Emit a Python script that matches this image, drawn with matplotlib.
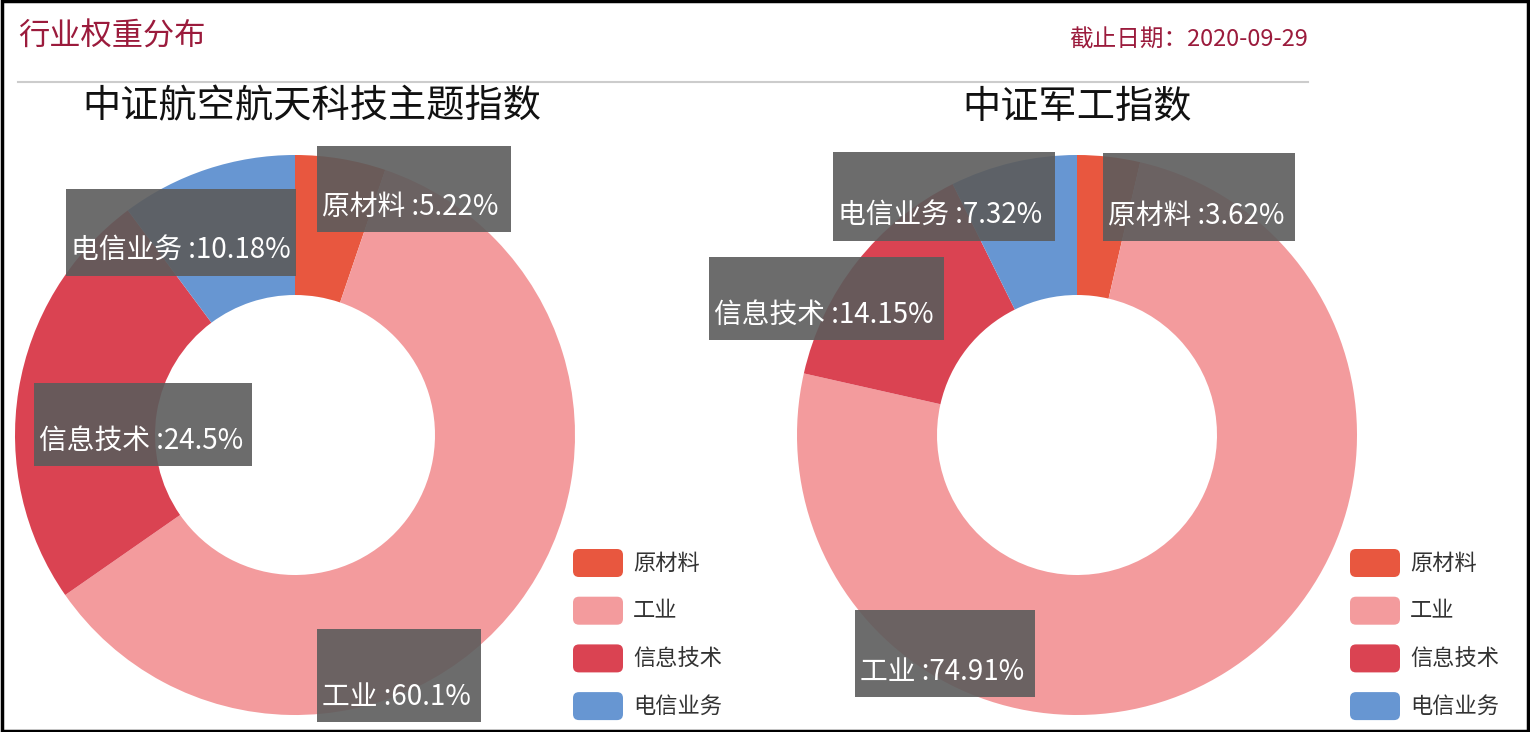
import matplotlib
matplotlib.use("Agg")
import matplotlib.pyplot as plt
from matplotlib.patches import Rectangle, FancyBboxPatch

plt.rcParams['font.family'] = ['Noto Sans CJK SC', 'DejaVu Sans']

W, H = 1530, 732

categories = ['原材料', '工业', '信息技术', '电信业务']
colors = ['#e8573f', '#f39b9d', '#da4352', '#6796d2']

aero_title = '中证航空航天科技主题指数'
aero_values = [5.22, 60.1, 24.5, 10.18]

mil_title = '中证军工指数'
mil_values = [3.62, 74.91, 14.15, 7.32]

# label boxes in pixel coords (x0, y0, x1, y1), per category order
aero_boxes = [(317, 146, 511, 232), (317, 629, 481, 722), (34, 383, 252, 466), (66, 189, 296, 276)]
mil_boxes = [(1103, 153, 1295, 241), (855, 610, 1035, 697), (709, 257, 944, 340), (833, 152, 1055, 241)]


def py(y):
    # pixel y (top-down) -> data y
    return H - y


fig = plt.figure(figsize=(W / 100, H / 100), dpi=100)
ax = fig.add_axes([0, 0, 1, 1])


def draw_donut(title, values, cx, boxes, legend_x):
    ax.pie(values, colors=colors, startangle=90, counterclock=False,
           radius=280, center=(cx, py(435)),
           wedgeprops=dict(width=140, linewidth=0))
    ax.text(cx + (17 if len(title) > 6 else 0), py(107), title, fontsize=27.5,
            ha='center', va='center', color='#111111')
    for cat, val, (x0, y0, x1, y1) in zip(categories, values, boxes):
        ax.add_patch(Rectangle((x0, py(y1)), x1 - x0, y1 - y0,
                               facecolor='#5c5c5c', alpha=0.9,
                               linewidth=0, zorder=3))
        ax.text(x0 + 5, py(y1 - 25), f'{cat} :{val:g}%', fontsize=20,
                color='white', ha='left', va='center', zorder=4)
    for i, (cat, col) in enumerate(zip(categories, colors)):
        yc = 563 + i * 47.7
        ax.add_patch(FancyBboxPatch((legend_x + 3, py(yc + 11)), 44, 22,
                                    boxstyle='round,pad=3,rounding_size=6',
                                    facecolor=col, linewidth=0, zorder=3))
        ax.text(legend_x + 60, py(yc), cat, fontsize=16, color='#333333',
                ha='left', va='center')


draw_donut(aero_title, aero_values, 295, aero_boxes, 573)
draw_donut(mil_title, mil_values, 1077, mil_boxes, 1350)

ax.text(18, py(37), '行业权重分布', fontsize=22.5, color='#9b1b3c',
        ha='left', va='center')
ax.text(1308, py(40), '截止日期：2020-09-29', fontsize=17, color='#9b1b3c',
        ha='right', va='center')
ax.plot([18, 1308], [py(82), py(82)], color='#cccccc', linewidth=1.5)

ax.set_xlim(0, W)
ax.set_ylim(0, H)
ax.set_aspect('equal')
ax.axis('off')

fig.add_artist(Rectangle((0.001, 0.002), 0.998, 0.996, transform=fig.transFigure,
                         fill=False, edgecolor='black', linewidth=2.5))

fig.savefig('out.png', dpi=100)
